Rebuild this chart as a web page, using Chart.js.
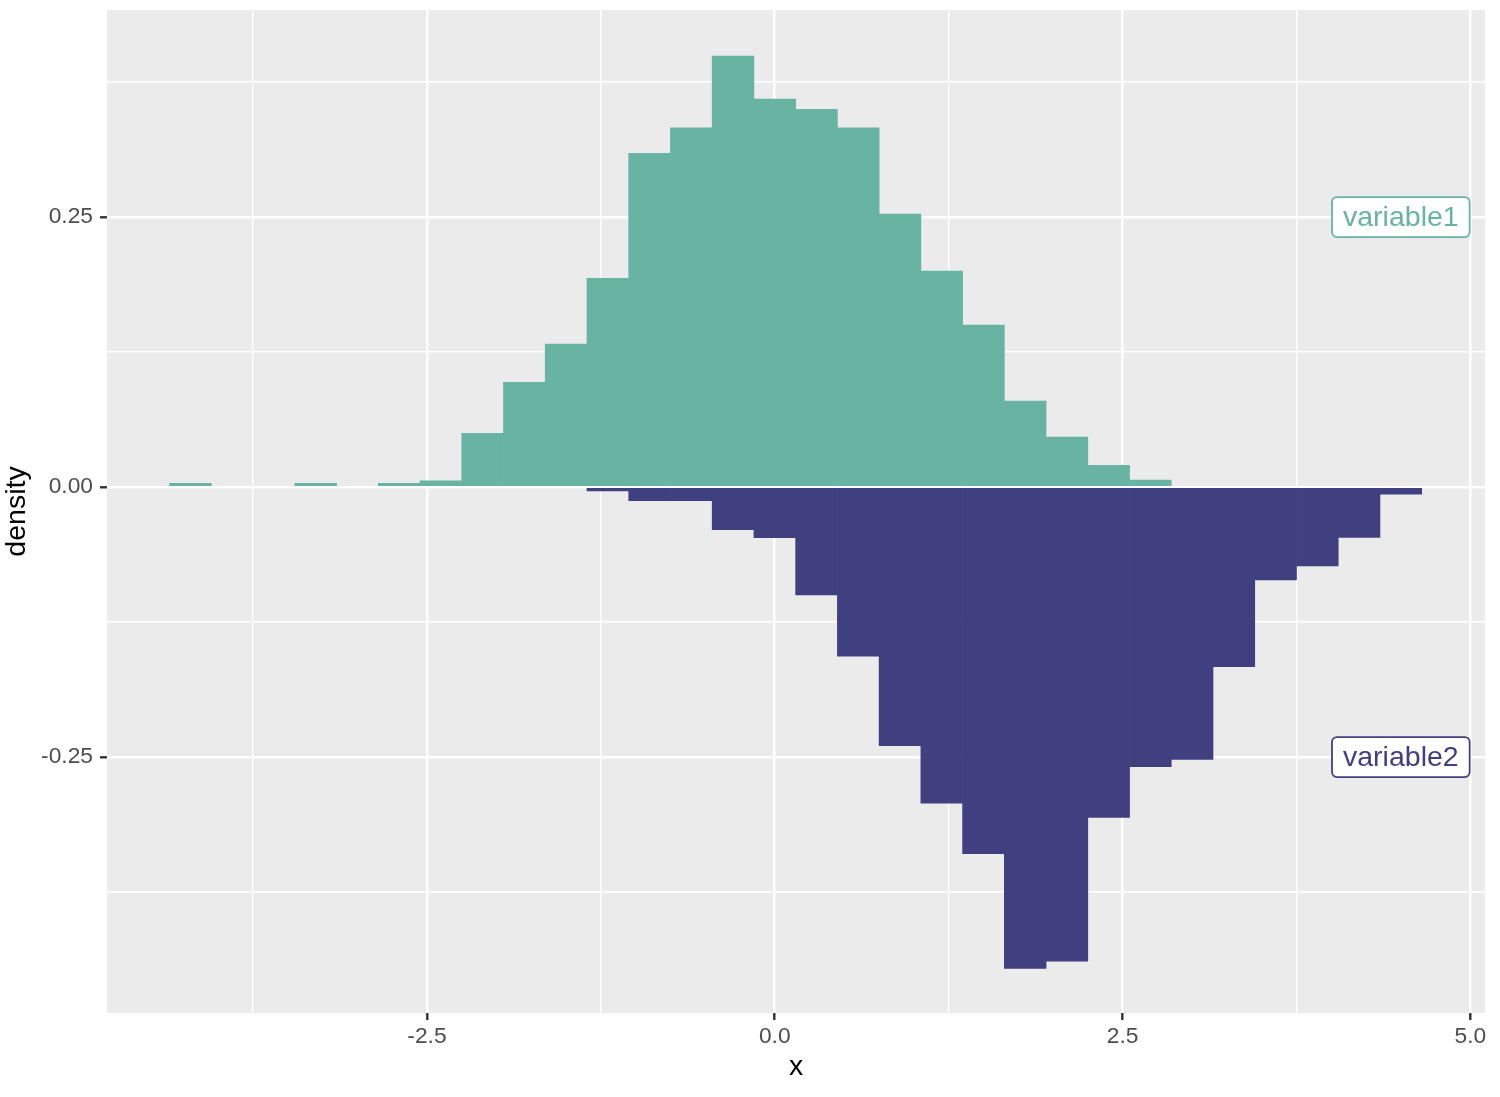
<!DOCTYPE html>
<html lang="en">
<head>
  <meta charset="UTF-8" />
  <title>Mirror histogram</title>
  <script src="https://cdn.jsdelivr.net/npm/chart.js"></script>
  <style>
    body { margin: 0; background: #fff; }
    canvas { display: block; }
  </style>
</head>
<body>
<canvas id="histChart" width="1500" height="1097"></canvas>

<script>
// bin centres (binwidth 0.3)
const binCenters = [-4.2, -3.9, -3.6, -3.3, -3.0, -2.7, -2.4, -2.1, -1.8, -1.5,
                    -1.2, -0.9, -0.6, -0.3, 0.0, 0.3, 0.6, 0.9, 1.2, 1.5,
                    1.8, 2.1, 2.4, 2.7, 3.0, 3.3, 3.6, 3.9, 4.2, 4.5];

// variable1 density (drawn upwards)
const variable1 = [0.0035, 0, 0, 0.0035, 0, 0.0035, 0.0058, 0.0497, 0.0969, 0.1324,
                   0.1932, 0.309, 0.3327, 0.399, 0.3593, 0.3497, 0.3327, 0.2528, 0.200, 0.150,
                   0.0796, 0.0463, 0.0201, 0.0065, 0, 0, 0, 0, 0, 0];

// variable2 density (mirrored, drawn downwards)
const variable2 = [0, 0, 0, 0, 0, 0, 0, 0, 0, 0,
                   -0.0037, -0.0127, -0.0127, -0.0395, -0.0469, -0.100, -0.1565, -0.2395, -0.2926, -0.3395,
                   -0.4457, -0.4389, -0.3058, -0.259, -0.2521, -0.1664, -0.0861, -0.0731, -0.0466, -0.0065];

const xTicks = [-3.75, -2.5, -1.25, 0, 1.25, 2.5, 3.75, 5.0];
const xMajor = [-2.5, 0, 2.5, 5.0];
const yTicks = [-0.375, -0.25, -0.125, 0, 0.125, 0.25, 0.375];
const yMajor = [-0.25, 0, 0.25];

const labels = [
  { text: 'variable1', x: 4.5, y: 0.25, color: '#69b3a2' },
  { text: 'variable2', x: 4.5, y: -0.25, color: '#404080' }
];

const FONT = "'Liberation Sans', Arial, Helvetica, sans-serif";
Chart.defaults.font.family = FONT;

const panelBg = {
  id: 'panelBg',
  beforeDraw(chart) {
    const { ctx, chartArea: a } = chart;
    ctx.save();
    ctx.fillStyle = '#fff';
    ctx.fillRect(0, 0, chart.width, chart.height);
    ctx.fillStyle = '#EBEBEB';
    ctx.fillRect(a.left, a.top, a.right - a.left, a.bottom - a.top);
    ctx.restore();
  }
};

function roundRect(ctx, x, y, w, h, r) {
  ctx.beginPath();
  ctx.moveTo(x + r, y);
  ctx.arcTo(x + w, y, x + w, y + h, r);
  ctx.arcTo(x + w, y + h, x, y + h, r);
  ctx.arcTo(x, y + h, x, y, r);
  ctx.arcTo(x, y, x + w, y, r);
  ctx.closePath();
}

const textLabels = {
  id: 'textLabels',
  afterDatasetsDraw(chart) {
    const { ctx, scales } = chart;
    ctx.save();
    ctx.font = '28.5px ' + FONT;
    ctx.textAlign = 'center';
    ctx.textBaseline = 'middle';
    labels.forEach(l => {
      const cx = scales.x.getPixelForValue(l.x);
      const cy = scales.y.getPixelForValue(l.y);
      const w = ctx.measureText(l.text).width + 22;
      const h = 40;
      roundRect(ctx, cx - w / 2, cy - h / 2, w, h, 5);
      ctx.fillStyle = '#fff';
      ctx.fill();
      ctx.lineWidth = 1.8;
      ctx.strokeStyle = l.color;
      ctx.stroke();
      ctx.fillStyle = l.color;
      ctx.fillText(l.text, cx, cy + 1);
    });
    ctx.restore();
  }
};

const isMajor = (list, c) => !!(c && c.tick) && list.some(m => Math.abs(m - c.tick.value) < 1e-9);
const isMajorVal = (list, v) => list.some(m => Math.abs(m - v) < 1e-9);
// empty bins are left out so no hairline is drawn for them
const toPoints = vals => binCenters.map((c, i) => ({ x: c, y: vals[i] === 0 ? null : vals[i] }));

new Chart(document.getElementById('histChart'), {
  type: 'bar',
  data: {
    datasets: [
      {
        label: 'variable1',
        data: toPoints(variable1),
        backgroundColor: '#69b3a2',
        borderWidth: 0
      },
      {
        label: 'variable2',
        data: toPoints(variable2),
        backgroundColor: '#404080',
        borderWidth: 0
      }
    ]
  },
  options: {
    responsive: false,
    animation: false,
    devicePixelRatio: 1,
    grouped: false,
    barPercentage: 1,
    categoryPercentage: 1,
    layout: { padding: { top: 10, right: 15, left: 0, bottom: 0 } },
    plugins: { legend: { display: false }, tooltip: { enabled: false } },
    scales: {
      x: {
        type: 'linear',
        min: -4.80,
        max: 5.105,
        offset: false,
        afterBuildTicks: s => { s.ticks = xTicks.map(v => ({ value: v })); },
        afterFit: s => { s.height = 84; s.paddingLeft = 0; s.paddingRight = 0; },
        border: { display: false },
        grid: {
          offset: false,
          color: '#fff',
          lineWidth: c => isMajor(xMajor, c) ? 2.6 : 1.4,
          tickColor: c => isMajor(xMajor, c) ? '#333333' : 'rgba(0,0,0,0)',
          tickWidth: 2.4,
          tickLength: 7
        },
        ticks: {
          autoSkip: false,
          maxRotation: 0,
          padding: 3,
          color: '#4D4D4D',
          font: { size: 22.8 },
          callback: v => isMajorVal(xMajor, v) ? v.toFixed(1) : ''
        },
        title: {
          display: true,
          text: 'x',
          color: '#000',
          font: { size: 28.5 },
          padding: { top: 0, bottom: 13 }
        }
      },
      y: {
        min: -0.4870,
        max: 0.4417,
        afterBuildTicks: s => { s.ticks = yTicks.map(v => ({ value: v })); },
        afterFit: s => { s.width = 107; s.paddingTop = 0; s.paddingBottom = 0; },
        border: { display: false },
        grid: {
          color: '#fff',
          lineWidth: c => isMajor(yMajor, c) ? 2.6 : 1.4,
          tickColor: c => isMajor(yMajor, c) ? '#333333' : 'rgba(0,0,0,0)',
          tickWidth: 2.4,
          tickLength: 7
        },
        ticks: {
          autoSkip: false,
          padding: 7,
          color: '#4D4D4D',
          font: { size: 22.8 },
          callback: v => isMajorVal(yMajor, v) ? v.toFixed(2) : ''
        },
        title: {
          display: true,
          text: 'density',
          color: '#000',
          font: { size: 28.5 },
          padding: { top: 0, bottom: 0 }
        }
      }
    }
  },
  plugins: [panelBg, textLabels]
});
</script>
</body>
</html>
